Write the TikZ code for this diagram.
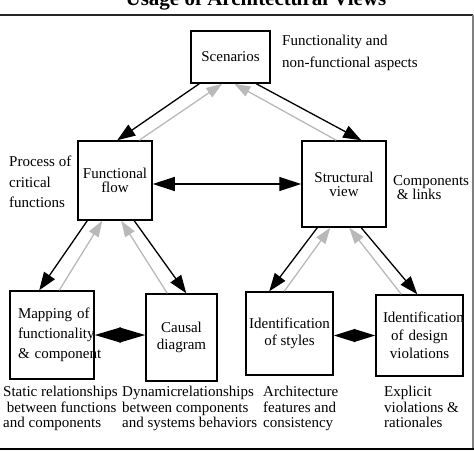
\documentclass[tikz,border=0pt]{standalone}
\usepackage{fontspec}
\setmainfont{Liberation Serif}
\usetikzlibrary{arrows.meta}

\tikzset{
  box/.style={draw, line width=1.5pt, inner sep=0pt, align=center},
  note/.style={inner sep=0pt, align=left, anchor=north west},
  blk/.style={line width=1.3pt, -{Triangle[length=18pt,width=13pt]}},
  gry/.style={gray!55, line width=1.3pt, -{Triangle[length=16pt,width=11pt]}},
  dbl/.style={line width=1.3pt, {Triangle[length=22pt,width=14pt]}-{Triangle[length=22pt,width=14pt]}}
}

\begin{document}
\begin{tikzpicture}[x=1pt, y=-1pt, font=\fontsize{15}{16}\selectfont]
\useasboundingbox (0,0) rectangle (474,452);
\clip (0,0) rectangle (474,452);

% title, cut at the top
\node[font=\fontsize{21}{24}\selectfont\bfseries, anchor=base] (title) at (256,6) {Usage of Architectural Views};

% frame
\draw[black!85, line width=1.5pt] (0,15) -- (473,15);
\draw[gray, line width=1.5pt] (473,15) -- (473,449);
\draw[line width=2.5pt] (0,449) -- (474,449);

% views
\node[box, minimum width=79pt, minimum height=52pt, text depth=-4pt] (scen) at (230.5,57) {Scenarios};
\node[box, minimum width=74pt, minimum height=79pt, font=\fontsize{15}{14}\selectfont] (func) at (115,180.5) {Functional\\flow};
\node[box, minimum width=84pt, minimum height=86pt, font=\fontsize{15}{14}\selectfont] (struct) at (344,184) {Structural\\view};
\node[box, minimum height=88pt, inner xsep=8pt, text width=68pt, align=left, font=\fontsize{15}{20}\selectfont] (map) at (52,335) {\mbox{Mapping of}\\\mbox{functionality}\\\mbox{\& component}};
\node[box, minimum width=71pt, minimum height=87pt, font=\fontsize{15}{16.5}\selectfont] (causal) at (181.5,337.5) {Causal\\diagram};
\node[box, minimum width=87pt, minimum height=83pt, font=\fontsize{15}{17}\selectfont] (styles) at (289.5,333.5) {Identification\\of styles};
\node[box, minimum height=81pt, inner xsep=7pt, text width=73pt, font=\fontsize{15}{18}\selectfont] (viol) at (419.5,335.5) {\mbox{Identification}\\of design\\violations};

% notes
\node[note, font=\fontsize{15}{22}\selectfont] (nscen) at (282,35) {Functionality and\\non-functional aspects};
\node[note, font=\fontsize{15}{20.5}\selectfont] (nfunc) at (9,156) {Process of\\critical\\functions};
\node[note, font=\fontsize{15}{13.5}\selectfont] (nstruct) at (393,175) {Components\\\ \& links};
\node[note, font=\fontsize{15}{15.5}\selectfont] (nmap) at (3,386) {Static relationships\\\ between functions\\and components};
\node[note, font=\fontsize{15}{15.5}\selectfont] (ncausal) at (122,386) {Dynamicrelationships\\between components\\and systems behaviors};
\node[note, font=\fontsize{15}{15.5}\selectfont] (nstyles) at (263,386) {Architecture\\features and\\consistency};
\node[note, font=\fontsize{15}{15.5}\selectfont] (nviol) at (384,386) {Explicit\\violations \&\\rationales};

% top arrows
\draw[blk] ([xshift=9pt]scen.south west) -- ([xshift=40pt]func.north west);
\draw[gry] ([xshift=62pt]func.north west) -- ([xshift=32pt]scen.south west);
\draw[blk] ([xshift=66pt]scen.south west) -- ([xshift=60pt]struct.north west);
\draw[gry] ([xshift=35pt]struct.north west) -- ([xshift=44pt]scen.south west);
\draw[dbl] (func.east |- struct.west) -- (struct.west);

% functional flow below
\draw[blk] ([xshift=10pt]func.south west) -- ([xshift=30pt]map.north west);
\draw[gry] ([xshift=50pt]map.north west) -- ([xshift=25pt]func.south west);
\draw[blk] ([xshift=57pt]func.south west) -- ([xshift=41pt]causal.north west);
\draw[gry] ([xshift=22pt]causal.north west) -- ([xshift=44pt]func.south west);
\draw[line width=1.3pt, {Triangle[length=26pt,width=15pt]}-{Triangle[length=26pt,width=15pt]}] (map.east) -- (map.east -| causal.west);

% structural view below
\draw[blk] ([xshift=16pt]struct.south west) -- ([xshift=24pt]styles.north west);
\draw[gry] ([xshift=39pt]styles.north west) -- ([xshift=29pt]struct.south west);
\draw[blk] ([xshift=60pt]struct.south west) -- ([xshift=42pt]viol.north west);
\draw[gry] ([xshift=26pt]viol.north west) -- ([xshift=48pt]struct.south west);
\draw[line width=1.3pt, {Triangle[length=21.5pt,width=13pt]}-{Triangle[length=21.5pt,width=13pt]}] (styles.east |- viol.west) -- (viol.west);

\end{tikzpicture}
\end{document}
